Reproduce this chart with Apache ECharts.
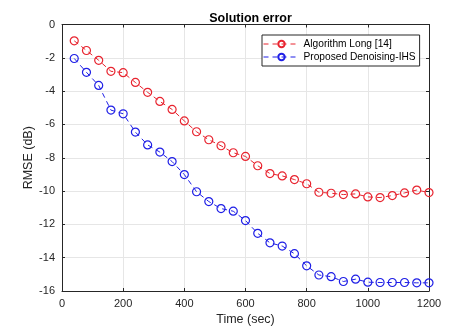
<!DOCTYPE html>
<html><head><meta charset="utf-8">
<script src="https://cdn.jsdelivr.net/npm/echarts@6/dist/echarts.min.js"></script>
<style>html,body{margin:0;padding:0;background:#fff}#c{width:474px;height:331px}</style>
</head><body><div id="c"></div>
<script>
const times = [40,80,120,160,200,240,280,320,360,400,440,480,520,560,600,640,680,720,760,800,840,880,920,960,1000,1040,1080,1120,1160,1200];
const algLong = [-0.98,-1.56,-2.15,-2.81,-2.89,-3.48,-4.07,-4.62,-5.10,-5.79,-6.44,-6.92,-7.28,-7.70,-7.92,-8.48,-8.95,-9.09,-9.31,-9.56,-10.07,-10.13,-10.21,-10.17,-10.35,-10.39,-10.27,-10.11,-9.94,-10.09];
const proposed = [-2.04,-2.87,-3.66,-5.14,-5.36,-6.46,-7.23,-7.66,-8.23,-9.01,-10.04,-10.63,-11.05,-11.21,-11.77,-12.54,-13.11,-13.30,-13.76,-14.49,-15.04,-15.14,-15.43,-15.29,-15.47,-15.49,-15.49,-15.49,-15.51,-15.51];
const seriesNames = ['Algorithm Long [14]','Proposed Denoising-IHS'];
const xTicks = {min:0,max:1200,interval:200};
const yTicks = {min:-16,max:0,interval:2};

const font = 'Liberation Sans, Arial, Helvetica, sans-serif';
const axisCol = '#262626';
function mk(name, data, col){
  return {
    name, type:'line', data: times.map((t,i)=>[t,data[i]]),
    symbol:'circle', symbolSize:8, showSymbol:true,
    lineStyle:{color:col, width:1, type:[5,4]},
    itemStyle:{color:'rgba(255,255,255,0)', borderColor:col, borderWidth:1.2},
    z:3
  };
}
const chart = echarts.init(document.getElementById('c'), null, {renderer:'canvas'});
chart.setOption({
  animation:false,
  backgroundColor:'#fff',
  title:{text:'Solution error', left:245.5, textAlign:'center', top:7,
    textStyle:{fontFamily:font, fontSize:12.5, fontWeight:'bold', color:'#000'}},
  legend:{orient:'vertical', left:262, top:35,
    backgroundColor:'#fff', borderColor:axisCol, borderWidth:1, borderRadius:0,
    padding:[4,4,4,1], itemWidth:36, itemHeight:8, itemGap:3,
    lineStyle:{width:1},
    textStyle:{fontFamily:font, fontSize:10.2, color:'#000', padding:[0,0,0,-1]},
    data:seriesNames},
  grid:{left:62, right:45, top:24.5, bottom:37, show:false},
  xAxis:[{type:'value', min:xTicks.min, max:xTicks.max, interval:xTicks.interval,
    name:'Time (sec)', nameLocation:'middle', nameGap:22, nameMoveOverlap:false,
    nameTextStyle:{fontFamily:font, fontSize:12.5, color:axisCol},
    axisLine:{show:true, onZero:false, lineStyle:{color:axisCol, width:1}},
    axisTick:{inside:true, length:3, lineStyle:{color:axisCol}},
    axisLabel:{fontFamily:font, fontSize:11, color:axisCol, margin:7, formatter:v=>String(v)},
    splitLine:{show:true, lineStyle:{color:'#e6e6e6', width:1}}},
   {type:'value', position:'top', min:xTicks.min, max:xTicks.max, interval:xTicks.interval,
    axisLine:{show:true, onZero:false, lineStyle:{color:axisCol, width:1}},
    axisTick:{inside:true, length:3, lineStyle:{color:axisCol}},
    axisLabel:{show:false}, splitLine:{show:false}}],
  yAxis:[{type:'value', min:yTicks.min, max:yTicks.max, interval:yTicks.interval,
    name:'RMSE (dB)', nameLocation:'middle', nameGap:27, nameMoveOverlap:false,
    nameTextStyle:{fontFamily:font, fontSize:12.5, color:axisCol},
    axisLine:{show:true, onZero:false, lineStyle:{color:axisCol, width:1}},
    axisTick:{show:true, inside:true, length:3, lineStyle:{color:axisCol}},
    axisLabel:{fontFamily:font, fontSize:11, color:axisCol, margin:7, formatter:v=>String(v)},
    splitLine:{show:true, lineStyle:{color:'#e6e6e6', width:1}}},
   {type:'value', position:'right', min:yTicks.min, max:yTicks.max, interval:yTicks.interval,
    axisLine:{show:true, onZero:false, lineStyle:{color:axisCol, width:1}},
    axisTick:{show:true, inside:true, length:3, lineStyle:{color:axisCol}},
    axisLabel:{show:false}, splitLine:{show:false}}],
  series:[mk(seriesNames[0], algLong, '#e8242f'), mk(seriesNames[1], proposed, '#1f1fe6')]
});
</script></body></html>
